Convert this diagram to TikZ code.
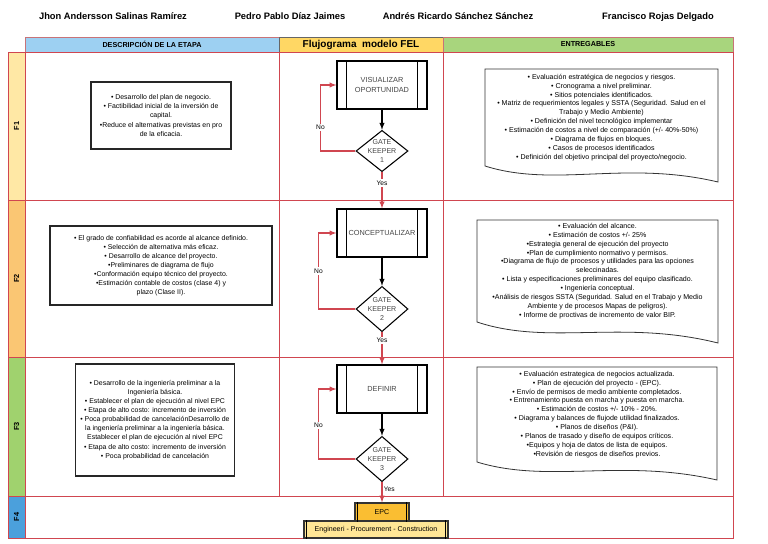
\documentclass[tikz,border=0pt]{standalone}
\usepackage{fontspec}
\setmainfont{Liberation Sans}
\usetikzlibrary{shapes.geometric}
\definecolor{laneLine}{RGB}{208,70,80}
\definecolor{frameLine}{RGB}{200,115,120}
\definecolor{descHead}{RGB}{157,208,242}
\definecolor{flowHead}{RGB}{255,215,100}
\definecolor{delivHead}{RGB}{168,213,125}
\definecolor{fOne}{RGB}{255,232,165}
\definecolor{fTwo}{RGB}{250,198,115}
\definecolor{fThree}{RGB}{160,210,110}
\definecolor{fFour}{RGB}{75,160,220}
\definecolor{epcFill}{RGB}{250,190,50}
\definecolor{eccFill}{RGB}{255,230,150}
\definecolor{flowText}{RGB}{70,70,70}

\begin{document}
\begin{tikzpicture}[x=0.75pt,y=-0.75pt]

          \tikzstyle{nameText} = [anchor=base, font=\bfseries\fontsize{7}{8}\selectfont];
          \tikzstyle{headText} = [font=\bfseries\fontsize{5.4}{6}\selectfont];
          \tikzstyle{flowTitle} = [font=\bfseries\fontsize{7.5}{8}\selectfont];
          \tikzstyle{laneText} = [font=\bfseries\fontsize{5.5}{6}\selectfont, rotate=90];
          \tikzstyle{descBox} = [draw=black!85, line width=0.8pt, fill=white, align=center, outer sep=0pt, font=\fontsize{5.2}{6.8}\selectfont];
          \tikzstyle{docText} = [align=center, inner sep=0pt, outer sep=0pt, font=\fontsize{5.3}{6.7}\selectfont];
          \tikzstyle{docEdge} = [draw=black!80, line width=0.6pt];
          \tikzstyle{stageBox} = [draw=black, line width=0.8pt, fill=white, minimum width=67.5pt, minimum height=36pt, align=center, text=flowText, font=\fontsize{5.5}{7}\selectfont];
          \tikzstyle{gateKeeper} = [diamond, draw=black, line width=0.8pt, fill=white, minimum width=39pt, minimum height=34pt, inner sep=0pt];
          \tikzstyle{gateText} = [align=center, text=flowText, font=\fontsize{5.3}{7}\selectfont];
          \tikzstyle{epcBox} = [draw=black!80, line width=0.8pt, fill=epcFill, minimum width=40.5pt, minimum height=13.5pt, font=\fontsize{5.3}{6}\selectfont];
          \tikzstyle{eccBox} = [draw=black!80, line width=0.8pt, fill=eccFill, minimum width=108pt, minimum height=12.75pt, font=\fontsize{5.3}{6}\selectfont];
          \tikzstyle{flowEdge} = [->, >=latex, line width=0.8pt];
          \tikzstyle{loopEdge} = [->, >=latex, laneLine, line width=0.8pt];
          \tikzstyle{edgeLabel} = [fill=white, inner sep=1pt, text=black, font=\fontsize{5}{6}\selectfont];

          \useasboundingbox (0,0) rectangle (768,543);

          % team
          \node[nameText] (jhon) at (113,19) {Jhon Andersson Salinas Ramírez};
          \node[nameText] (pedro) at (290,19) {Pedro Pablo Díaz Jaimes};
          \node[nameText] (andres) at (458,19) {Andrés Ricardo Sánchez Sánchez};
          \node[nameText] (francisco) at (658,19) {Francisco Rojas Delgado};

          % header and lanes
          \filldraw[fill=descHead, draw=frameLine] (25,37) rectangle node[headText] (hdesc) {DESCRIPCIÓN DE LA ETAPA} (279,52);
          \filldraw[fill=flowHead, draw=black!60] (279,37) rectangle node[flowTitle] (hflow) {Flujograma\ \ modelo FEL} (443,52);
          \filldraw[fill=delivHead, draw=frameLine] (443,37) rectangle node[headText] (hdeliv) {ENTREGABLES} (733,52);

          \filldraw[fill=fOne, draw=laneLine] (8,52) rectangle node[laneText] (f1) {F1} (25,200);
          \filldraw[fill=fTwo, draw=laneLine] (8,200) rectangle node[laneText] (f2) {F2} (25,357);
          \filldraw[fill=fThree, draw=laneLine] (8,357) rectangle node[laneText] (f3) {F3} (25,496);
          \filldraw[fill=fFour, draw=laneLine] (8,496) rectangle node[laneText] (f4) {F4} (25,538);

          \draw[laneLine, line width=0.6pt] (25,52) rectangle (733,538);
          \foreach \y in {200,357,496}
            \draw[laneLine, line width=0.6pt] (25,\y) -- (733,\y);
          \draw[laneLine, line width=0.6pt] (279,52) -- (279,496);
          \draw[laneLine, line width=0.6pt] (443,52) -- (443,496);

          % stage descriptions
          \node[descBox, minimum width=105pt, minimum height=50.25pt] (desc1) at (161,115.5) {%
            • Desarrollo del plan de negocio.\\
            • Factibilidad inicial de la inversión de\\
            capital.\\
            •Reduce el alternativas previstas en pro\\
            de la eficacia.};
          \node[descBox, minimum width=166.5pt, minimum height=59.25pt] (desc2) at (161,265.5) {%
            • El grado de confiabilidad es acorde al alcance definido.\\
            • Selección de alternativa más eficaz.\\
            • Desarrollo de alcance del proyecto.\\
            •Preliminares de diagrama de flujo\\
            •Conformación equipo técnico del proyecto.\\
            •Estimación contable de costos (clase 4) y\\
            plazo (Clase II).};
          \node[descBox, minimum width=115.5pt, minimum height=84pt] (desc3) at (155,420) {%
            • Desarrollo de la ingeniería preliminar a la\\
            Ingeniería básica.\\
            • Establecer el plan de ejecución al nivel EPC\\
            • Etapa de alto costo: incremento de inversión\\
            • Poca probabilidad de cancelaciónDesarrollo de\\
            la ingeniería preliminar a la ingeniería básica.\\
            Establecer el plan de ejecución al nivel EPC\\
            • Etapa de alto costo: incremento de inversión\\
            • Poca probabilidad de cancelación};

          % flow
          \node[stageBox] (vis) at (382,85) {VISUALIZAR\\OPORTUNIDAD};
          \node[stageBox] (con) at (382,233) {CONCEPTUALIZAR};
          \node[stageBox] (def) at (382,389) {DEFINIR};
          \node[gateKeeper, minimum height=31pt, label={[gateText]center:GATE\\KEEPER\\1}] (gk1) at (382,151) {};
          \node[gateKeeper, label={[gateText]center:GATE\\KEEPER\\2}] (gk2) at (382,309) {};
          \node[gateKeeper, label={[gateText]center:GATE\\KEEPER\\3}] (gk3) at (382,459) {};
          \node[epcBox] (epc) at (382,512) {EPC};
          \node[eccBox] (ecc) at (376,529.5) {Engineeri - Procurement - Construction};

          \foreach \s/\d in {vis/7.5pt, con/7.5pt, def/7.5pt, epc/2pt, ecc/2pt} {
            \draw[line width=0.6pt] ([xshift=\d]\s.north west) -- ([xshift=\d]\s.south west);
            \draw[line width=0.6pt] ([xshift=-\d]\s.north east) -- ([xshift=-\d]\s.south east);
          }

          \draw[flowEdge] (vis) -- (gk1);
          \draw[flowEdge] (con) -- (gk2);
          \draw[flowEdge] (def) -- (gk3);

          \draw[loopEdge] (gk1.west) -- ++(-35,0) |- node[edgeLabel, pos=0.18] (no1) {No} (vis.west);
          \draw[loopEdge] (gk2.west) -- ++(-37,0) |- node[edgeLabel, pos=0.25] (no2) {No} (con.west);
          \draw[loopEdge] (gk3.west) -- ++(-37,0) |- node[edgeLabel, pos=0.24] (no3) {No} (def.west);

          \draw[loopEdge] (gk1.south) -- node[edgeLabel, pos=0.3] (yes1) {Yes} (con.north);
          \draw[loopEdge] (gk2.south) -- node[edgeLabel, pos=0.25] (yes2) {Yes} (def.north);
          \draw[loopEdge] (gk3.south) -- node[edgeLabel, fill=none, right, pos=0.35] (yes3) {Yes} (epc.north);

          % deliverables
          \node[docText, minimum width=174.75pt, minimum height=72.75pt] (ent1) at (601.5,117.5) {%
            • Evaluación estratégica de negocios y riesgos.\\
            • Cronograma a nivel preliminar.\\
            • Sitios potenciales identificados.\\
            • Matriz de requerimientos legales y SSTA (Seguridad. Salud en el\\
            Trabajo y Medio Ambiente)\\
            • Definición del nivel tecnológico implementar\\
            • Estimación de costos a nivel de comparación (+/- 40\%-50\%)\\
            • Diagrama de flujos en bloques.\\
            • Casos de procesos identificados\\
            • Definición del objetivo principal del proyecto/negocio.};
          \node[docText, minimum width=180.75pt, minimum height=76.5pt] (ent2) at (597.5,271) {%
            • Evaluación del alcance.\\
            • Estimación de costos +/- 25\%\\
            •Estrategia general de ejecución del proyecto\\
            •Plan de cumplimiento normativo y permisos.\\
            •Diagrama de flujo de procesos y utilidades para las opciones\\
            seleccinadas.\\
            • Lista y especificaciones preliminares del equipo clasificado.\\
            • Ingeniería conceptual.\\
            •Análisis de riesgos SSTA (Seguridad. Salud en el Trabajo y Medio\\
            Ambiente y de procesos Mapas de peligros).\\
            • Informe de proctivas de incremento de valor BIP.};
          \node[docText, minimum width=180pt, minimum height=71.25pt] (ent3) at (597,414.5) {%
            • Evaluación estrategica de negocios actualizada.\\
            • Plan de ejecución del proyecto - (EPC).\\
            • Envío de permisos de medio ambiente completados.\\
            • Entrenamiento puesta en marcha y puesta en marcha.\\
            • Estimación de costos +/- 10\% - 20\%.\\
            • Diagrama y balances de flujode utilidad finalizados.\\
            • Planos de diseños (P\&I).\\
            • Planos de trasado y diseño de equipos críticos.\\
            •Equipos y hoja de datos de lista de equipos.\\
            •Revisión de riesgos de diseños previos.};

          \draw[docEdge] (ent1.south west) .. controls +(70,22) and +(-93,-22) .. ++(233,16) |- (ent1.north west) -- cycle;
          \draw[docEdge] (ent2.south west) .. controls +(72,24) and +(-96,-24) .. ++(241,21) |- (ent2.north west) -- cycle;
          \draw[docEdge] (ent3.south west) .. controls +(72,22) and +(-96,-22) .. ++(240,18) |- (ent3.north west) -- cycle;

\end{tikzpicture}
\end{document}
